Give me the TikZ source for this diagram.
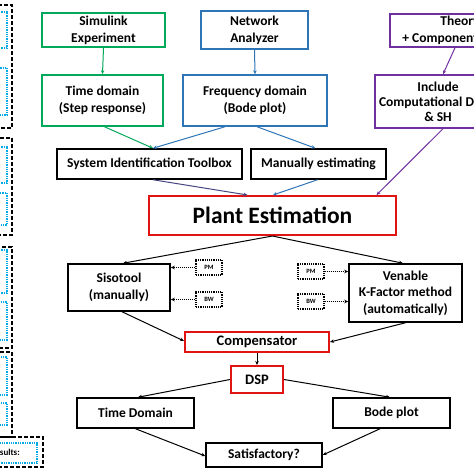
\documentclass[tikz,border=0pt]{standalone}
\usepackage{fontspec}
\setmainfont{Carlito}
\usetikzlibrary{arrows.meta}
\definecolor{cgreen}{RGB}{0,168,89}
\definecolor{cblue}{RGB}{46,117,182}
\definecolor{cpurple}{RGB}{112,48,160}
\definecolor{cred}{RGB}{225,20,20}
\definecolor{ccyan}{RGB}{0,170,230}
\definecolor{cnavy}{RGB}{70,70,130}
\tikzset{
  box/.style={draw, line width=1.5pt, inner sep=0pt, align=center, font=\bfseries\fontsize{13.5}{17}\selectfont},
  gbox/.style={box, draw=cgreen},
  bbox/.style={box, draw=cblue},
  pbox/.style={box, draw=cpurple},
  rbox/.style={box, draw=cred, line width=2pt},
  kbox/.style={box, draw=black},
  tiny/.style={draw, densely dotted, line width=1.2pt, inner sep=0pt, font=\bfseries\fontsize{6.5}{7}\selectfont, minimum width=26pt, minimum height=15pt},
  arr/.style={-{Stealth[length=4pt,width=3.5pt]}, line width=1pt},
  darr/.style={arr, densely dotted},
  outer/.style={draw, dashed, dash pattern=on 4pt off 2pt, line width=1.6pt},
  inner/.style={draw=ccyan, densely dotted, line width=1.3pt},
}
\begin{document}
\begin{tikzpicture}[x=1pt,y=-1pt]
\useasboundingbox (0,0) rectangle (474,474);
\clip (0,0) rectangle (474,474);
% left strip
\draw[outer] (-20,5) rectangle (12,128);
\draw[inner] (-20,12) rectangle (7,48);
\draw[inner] (-20,68) rectangle (7,115);
\draw[outer] (-20,138) rectangle (12,235);
\draw[inner] (-20,147) rectangle (7,183);
\draw[inner] (-20,193) rectangle (7,225);
\draw[outer] (-20,247) rectangle (12,348);
\draw[inner] (-20,250) rectangle (7,293);
\draw[inner] (-20,302) rectangle (7,340);
\draw[outer] (-20,352) rectangle (12,437);
\draw[inner] (-20,357) rectangle (7,395);
\draw[inner] (-20,403) rectangle (7,425);
\draw[outer] (-20,437) rectangle (43,467);
\draw[inner] (-20,443) rectangle (37,463);
\node[anchor=east, inner sep=0pt, font=\bfseries\fontsize{9}{10}\selectfont] (res) at (20,452) {Results:};
% top row
\node[gbox, minimum width=123pt, minimum height=34pt] (sim) at (103.5,30) {Simulink\\Experiment};
\node[gbox, minimum width=121pt, minimum height=51pt] (td) at (102.5,100.5) {Time domain\\(Step response)};
\node[bbox, minimum width=107pt, minimum height=38pt] (na) at (254.5,30) {Network\\Analyzer};
\node[bbox, minimum width=144pt, minimum height=51pt] (fd) at (255,100.5) {Frequency domain\\(Bode plot)};
\node[pbox, minimum width=140pt, minimum height=33pt] (th) at (460,30.5) {Theory\\+ Component Values};
\node[pbox, minimum width=126pt, minimum height=53pt, font=\bfseries\fontsize{13.5}{15}\selectfont] (inc) at (438,101.5) {Include\\Computational Delay\\\& SH};
% identification
\node[kbox, minimum width=185pt, minimum height=30pt] (sit) at (149.5,164) {System Identification Toolbox};
\node[kbox, minimum width=135pt, minimum height=30pt] (me) at (318.5,164) {Manually estimating};
\node[rbox, minimum width=247pt, minimum height=39pt, font=\bfseries\fontsize{23.5}{26}\selectfont] (pe) at (272.5,215.5) {Plant Estimation};
% design
\node[kbox, minimum width=102pt, minimum height=47pt] (siso) at (119,287.5) {Sisotool\\(manually)};
\node[kbox, minimum width=113pt, minimum height=58pt, font=\bfseries\fontsize{13.5}{16.5}\selectfont] (ven) at (405.5,293) {Venable\\K-Factor method\\(automatically)};
\node[tiny] (pm1) at (209,267.5) {PM};
\node[tiny] (bw1) at (209,299.5) {BW};
\node[tiny] (pm2) at (311,271.5) {PM};
\node[tiny] (bw2) at (311,301.5) {BW};
\node[rbox, minimum width=144pt, minimum height=20pt, font=\bfseries\fontsize{14.5}{17}\selectfont] (comp) at (257,342) {Compensator};
\node[rbox, minimum width=52pt, minimum height=27pt, font=\bfseries\fontsize{14.5}{17}\selectfont] (dsp) at (257,379.5) {DSP};
\node[kbox, minimum width=117pt, minimum height=30pt] (tdom) at (135.5,413) {Time Domain};
\node[kbox, minimum width=117pt, minimum height=30pt] (bode) at (391.5,413) {Bode plot};
\node[kbox, minimum width=116pt, minimum height=24pt] (sat) at (264,455) {Satisfactory?};
% connectors
\draw[arr, cgreen] (sim.south) -- (td.north);
\draw[arr, cblue] (na.south) -- (fd.north);
\draw[arr, cpurple] ([xshift=-5pt]th.south) -- ([xshift=5pt]inc.north);
\draw[arr, cgreen] ([xshift=2pt]td.south) -- ([xshift=3.5pt]sit.north);
\draw[arr, cblue] ([xshift=-30pt]fd.south) -- ([xshift=3.5pt]sit.north);
\draw[arr, cblue] ([xshift=2pt]fd.south) -- ([xshift=-3pt]me.north);
\draw[arr, cnavy] ([xshift=3.5pt]sit.south) -- ([xshift=-25pt]pe.north);
\draw[arr, cblue] ([xshift=-1pt]me.south) -- ([xshift=0.5pt]pe.north);
\draw[arr, cpurple] ([xshift=5pt]inc.south) -- ([xshift=104pt]pe.north);
\draw[arr] (pe.south) -- ([xshift=4pt]siso.north);
\draw[arr] (pe.south) -- ([xshift=-2.5pt]ven.north);
\draw[darr] (pm1.west) -- (pm1.west -| siso.east);
\draw[darr] (bw1.west) -- (bw1.west -| siso.east);
\draw[darr] (pm2.east) -- (pm2.east -| ven.west);
\draw[darr] (bw2.east) -- (bw2.east -| ven.west);
\draw[arr] ([xshift=3pt]siso.south) -- ([yshift=1pt]comp.west);
\draw[arr] (ven.south) -- (comp.east);
\draw[arr] (comp.south) -- (dsp.north);
\draw[arr] (dsp.west) -- ([xshift=2.5pt]tdom.north);
\draw[arr] (dsp.east) -- ([xshift=-1.5pt]bode.north);
\draw[arr] (tdom.south) -- ([yshift=-1pt]sat.west);
\draw[arr] ([xshift=-11.5pt]bode.south) -- (sat.east);
\end{tikzpicture}
\end{document}
